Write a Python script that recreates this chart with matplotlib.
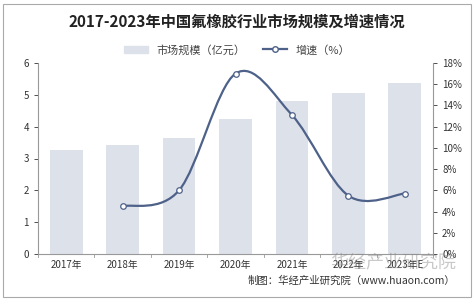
import matplotlib.pyplot as plt
from matplotlib.path import Path
from matplotlib.patches import PathPatch, Rectangle
from matplotlib.lines import Line2D
import numpy as np

plt.rcParams['font.family'] = ['Noto Sans CJK SC', 'DejaVu Sans']

years = ['2017年', '2018年', '2019年', '2020年', '2021年', '2022年', '2023年E']
market_size = [3.27, 3.43, 3.64, 4.25, 4.81, 5.07, 5.36]
growth_years = [1, 2, 3, 4, 5, 6]
growth = [4.5, 6.0, 17.0, 13.1, 5.5, 5.7]

bar_color = '#dde1ea'
line_color = '#4d6189'

fig = plt.figure(figsize=(4.74, 3.0), dpi=100)
ax = fig.add_axes([38 / 474, 1 - 254 / 300, (433 - 38) / 474, (254 - 63) / 300])
x = np.arange(len(years))
ax.bar(x, market_size, width=0.58, color=bar_color, zorder=1)
ax.set_xlim(-0.5, len(years) - 0.5)
ax.set_ylim(0, 6)
ax.set_yticks(range(0, 7))
ax.set_xticks(x)
ax.set_xticklabels(years)
for s in ['top', 'right']:
    ax.spines[s].set_visible(False)
for s in ['left', 'bottom']:
    ax.spines[s].set_color('#999999')
    ax.spines[s].set_linewidth(0.8)
ax.tick_params(axis='both', labelsize=7, colors='#333333', length=3, width=0.6)
ax.tick_params(axis='x', length=0, pad=4)
# category separator ticks on x axis
for i in range(len(years) + 1):
    ax.plot([i - 0.5, i - 0.5], [0, -0.1], color='#999999', lw=0.6, clip_on=False)

ax2 = ax.twinx()
ax2.set_ylim(0, 18)
ax2.set_yticks(range(0, 19, 2))
ax2.set_yticklabels([f'{v}%' for v in range(0, 19, 2)])
for s in ['top', 'left', 'bottom']:
    ax2.spines[s].set_visible(False)
ax2.spines['right'].set_color('#999999')
ax2.spines['right'].set_linewidth(0.8)
ax2.tick_params(axis='y', labelsize=7, colors='#333333', length=3, width=0.6)

# smoothed line (Catmull-Rom style bezier through the points)
px = np.array(growth_years, dtype=float)
py = np.array(growth, dtype=float)
verts = [(px[0], py[0])]
codes = [Path.MOVETO]
t = 1 / 6
for i in range(len(px) - 1):
    p0 = (px[i - 1], py[i - 1]) if i > 0 else (px[i], py[i])
    p1 = (px[i], py[i])
    p2 = (px[i + 1], py[i + 1])
    p3 = (px[i + 2], py[i + 2]) if i + 2 < len(px) else (px[i + 1], py[i + 1])
    c1 = (p1[0] + (p2[0] - p0[0]) * t, p1[1] + (p2[1] - p0[1]) * t)
    c2 = (p2[0] - (p3[0] - p1[0]) * t, p2[1] - (p3[1] - p1[1]) * t)
    verts += [c1, c2, p2]
    codes += [Path.CURVE4] * 3
ax2.add_patch(PathPatch(Path(verts, codes), fill=False, edgecolor=line_color, lw=1.6, zorder=3))
ax2.plot(px, py, linestyle='none', marker='o', markersize=4, markerfacecolor='white',
         markeredgecolor=line_color, markeredgewidth=0.9, zorder=4)

# legend
handles = [Rectangle((0, 0), 1, 1, color=bar_color),
           Line2D([0], [0], color=line_color, lw=1.6, marker='o', markersize=4,
                  markerfacecolor='white', markeredgecolor=line_color)]
fig.legend(handles, ['市场规模（亿元）', '增速（%）'], loc='center', bbox_to_anchor=(0.5, 1 - 50 / 300),
           ncol=2, frameon=False, fontsize=8, handlelength=2.2, columnspacing=1.5,
           labelcolor='#444444')

fig.text(0.5, 1 - 22 / 300, '2017-2023年中国氟橡胶行业市场规模及增速情况', ha='center', va='center',
         fontsize=11, fontweight='bold', color='#222222')

# watermark (overlaps the last tick labels, as in the reference)
fig.text(456 / 474, 1 - 263 / 300, '华经产业研究院', ha='right', va='center', fontsize=13,
         color='#888888', alpha=0.45)
fig.text(455 / 474, 1 - 281 / 300, '制图：华经产业研究院（www.huaon.com）', ha='right', va='center',
         fontsize=7.5, color='#333333')

fig.add_artist(Rectangle((3 / 474, 3 / 300), 468 / 474, 293 / 300, transform=fig.transFigure,
                         fill=False, edgecolor='#aaaaaa', lw=0.8))

fig.savefig('out.png', dpi=100)
